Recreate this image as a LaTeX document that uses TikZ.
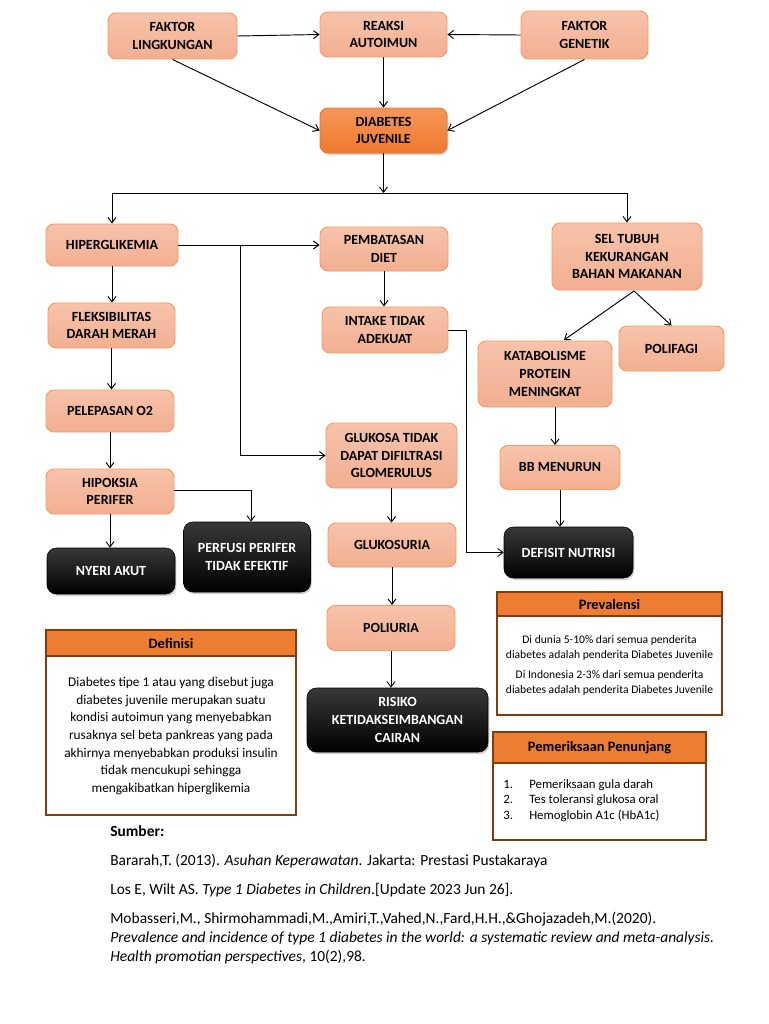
\documentclass[tikz,border=0pt]{standalone}
\usepackage{fontspec}
\setmainfont{Carlito}
\usetikzlibrary{arrows.meta,shadows,calc}
\definecolor{ltop}{HTML}{F7C3AA}
\definecolor{lbot}{HTML}{F3AF91}
\definecolor{lborder}{HTML}{F79A63}
\definecolor{dtop}{HTML}{F5965B}
\definecolor{dbot}{HTML}{EF7A2C}
\definecolor{dborder}{HTML}{E8782F}
\definecolor{hdr}{HTML}{ED7D31}
\definecolor{brd}{HTML}{843C0C}
\begin{document}
\begin{tikzpicture}[x=0.75pt,y=-0.75pt,
  lbl/.style={font=\bfseries\fontsize{10.5}{13.2}\selectfont, align=center, inner sep=0pt},
  sz/.style 2 args={minimum width=#1*0.75pt, minimum height=#2*0.75pt},
  lbox/.style={lbl, rounded corners=6pt, draw=lborder, line width=0.7pt, top color=ltop, bottom color=lbot},
  dbox/.style={lbl, rounded corners=6pt, draw=dborder, line width=0.7pt, top color=dtop, bottom color=dbot,
    drop shadow={opacity=0.35, shadow xshift=1pt, shadow yshift=-1.5pt}},
  bbox/.style={lbl, text=white, rounded corners=7pt, draw=black, top color=black!78, bottom color=black,
    drop shadow={opacity=0.35, shadow xshift=1pt, shadow yshift=-1.5pt}},
  hbox/.style={font=\bfseries\fontsize{10.8}{13}\selectfont, inner sep=0pt, fill=hdr, draw=brd, line width=0.8pt},
  wbox/.style={inner sep=0pt, fill=white, draw=brd, line width=0.8pt},
  arr/.style={-{Straight Barb[length=4pt,width=6pt]}, line width=0.7pt},
  ref/.style={anchor=base west, inner sep=0pt, font=\fontsize{11.6}{13.9}\selectfont},
]
\fill[white] (0,0) rectangle (768,1024);
\useasboundingbox (0,0) rectangle (768,1024);

% top row
\node[lbox, sz={129}{46}] (fl) at (172.5,36) {FAKTOR\\LINGKUNGAN};
\node[lbox, sz={127}{45}] (ra) at (383.5,34.5) {REAKSI\\AUTOIMUN};
\node[lbox, sz={127}{48}] (fg) at (584.5,35) {FAKTOR\\GENETIK};
\node[dbox, sz={127}{45}] (dj) at (383.5,130.5) {DIABETES\\JUVENILE};

% second row
\node[lbox, sz={132}{42}] (hip) at (112,245) {HIPERGLIKEMIA};
\node[lbox, sz={128}{44}] (pem) at (384,249) {PEMBATASAN\\DIET};
\node[lbox, sz={150}{67}] (sel) at (627,256.5) {SEL TUBUH\\KEKURANGAN\\BAHAN MAKANAN};

% left column
\node[lbox, sz={127}{45}] (fle) at (111.5,325.5) {FLEKSIBILITAS\\DARAH MERAH};
\node[lbox, sz={128}{42}] (pel) at (110,411) {PELEPASAN O2};
\node[lbox, sz={128}{45}] (hipo) at (110,491.5) {HIPOKSIA\\PERIFER};
\node[bbox, sz={128}{46}] (nye) at (111,571) {NYERI AKUT};
\node[bbox, sz={127}{70}] (per) at (247,557) {PERFUSI PERIFER\\TIDAK EFEKTIF};

% middle column
\node[lbox, sz={126}{46}] (intk) at (385,330) {INTAKE TIDAK\\ADEKUAT};
\node[lbox, sz={131}{65}] (glu) at (391.5,455.5) {GLUKOSA TIDAK\\DAPAT DIFILTRASI\\GLOMERULUS};
\node[lbox, sz={128}{44}] (gls) at (392,545) {GLUKOSURIA};
\node[lbox, sz={128}{45}] (pol) at (391,628) {POLIURIA};
\node[bbox, sz={181}{64}] (ris) at (397.5,720) {RISIKO\\KETIDAKSEIMBANGAN\\CAIRAN};

% right column
\node[lbox, sz={105}{45}] (polf) at (671.5,348.5) {POLIFAGI};
\node[lbox, sz={134}{66}] (kat) at (545,374) {KATABOLISME\\PROTEIN\\MENINGKAT};
\node[lbox, sz={120}{44}] (bb) at (560,467.5) {BB MENURUN};
\node[bbox, sz={129}{51}] (def) at (568.5,552.5) {DEFISIT NUTRISI};

% connectors top
\draw[arr] (fl.east) -- (ra.west);
\draw[arr] (fg.west) -- (ra.east);
\draw[arr] (fl.south) -- (dj.west);
\draw[arr] (ra.south) -- (dj.north);
\draw[arr] (fg.south) -- (dj.east);
\coordinate (j1) at (383.5,193);
\draw[arr] (dj.south) -- (j1);
\draw[arr] (j1) -| (hip.north);
\draw[arr] (j1) -| (sel.north);

% hiperglikemia branches
\draw[arr] (hip.east) -- (hip.east -| pem.west);
\coordinate (b1) at (240,245);
\draw[arr] (b1) |- (glu.west);
\draw[arr] (hip.south) -- (hip.south |- fle.north);
\draw[arr] (fle.south) -- (fle.south |- pel.north);
\draw[arr] (pel.south) -- (pel.south |- hipo.north);
\draw[arr] (hipo.south) -- (hipo.south |- nye.north);
\coordinate (p1) at (251,490);
\draw[arr] (hipo.east |- p1) -- (p1) -- (p1 |- per.north);

% middle
\draw[arr] (pem.south) -- (pem.south |- intk.north);
\coordinate (i1) at (466,330);
\draw[arr] (intk.east) -- (i1) |- (def.west);
\draw[arr] (glu.south) -- (glu.south |- gls.north);
\draw[arr] (gls.south) -- (gls.south |- pol.north);
\draw[arr] (pol.south) -- (pol.south |- ris.north);

% right
\coordinate (s1) at (634,291);
\coordinate (k1) at (564,340);
\draw[arr] (s1) -- (k1);
\draw[arr] (s1) -- (polf.north);
\coordinate (k2) at (555,407);
\draw[arr] (k2) -- (k2 |- bb.north);
\draw[arr] (bb.south) -- (bb.south |- def.north);

% Prevalensi
\node[hbox, sz={225}{24}] (prevh) at (609.5,604) {Prevalensi};
\node[wbox, sz={225}{99}] (prevb) at (609.5,665.5) {};
\node[align=center, inner sep=0pt, font=\fontsize{8.7}{11.25}\selectfont] (prevt) at (609.5,665.5)
  {Di dunia 5-10\% dari semua penderita\\diabetes adalah penderita Diabetes Juvenile\\[3.75pt]
   Di Indonesia 2-3\% dari semua penderita\\diabetes adalah penderita Diabetes Juvenile};

% Definisi
\node[hbox, sz={250}{26}] (defh) at (171,643) {Definisi};
\node[wbox, sz={250}{159}] (defb) at (171,735.5) {};
\node[align=center, inner sep=0pt, font=\fontsize{10}{13.25}\selectfont] (deft) at (171,736)
  {Diabetes tipe 1 atau yang disebut juga\\diabetes juvenile merupakan suatu\\kondisi autoimun yang menyebabkan\\rusaknya sel beta pankreas yang pada\\akhirnya menyebabkan produksi insulin\\tidak mencukupi sehingga\\mengakibatkan hiperglikemia};

% Pemeriksaan Penunjang
\node[hbox, sz={213}{31}] (pmh) at (599.5,747.5) {Pemeriksaan Penunjang};
\node[wbox, sz={213}{77}] (pmb) at (599.5,801.5) {};
\node[anchor=west, align=left, inner sep=0pt, font=\fontsize{9.6}{11.6}\selectfont] (pmt) at (503,800.5)
  {\makebox[19.5pt][l]{1.}Pemeriksaan gula darah\\\makebox[19.5pt][l]{2.}Tes toleransi glukosa oral\\\makebox[19.5pt][l]{3.}Hemoglobin A1c (HbA1c)};

% Sumber
\node[ref, font=\bfseries\fontsize{11.6}{13.9}\selectfont] (s0) at (110,836.5) {Sumber:};
\node[ref] (r1) at (110,865) {Bararah,T. (2013). \textit{Asuhan Keperawatan}. Jakarta: Prestasi Pustakaraya};
\node[ref] (r2) at (110,894) {Los E, Wilt AS. \textit{Type 1 Diabetes in Children}.[Update 2023 Jun 26].};
\node[ref] (r3) at (110,923) {Mobasseri,M., Shirmohammadi,M.,Amiri,T.,Vahed,N.,Fard,H.H.,\&Ghojazadeh,M.(2020).};
\node[ref] (r4) at (110,942) {\textit{Prevalence and incidence of type 1 diabetes in the world: a systematic review and meta-analysis.}};
\node[ref] (r5) at (110,961) {\textit{Health promotian perspectives}, 10(2),98.};
\end{tikzpicture}
\end{document}
